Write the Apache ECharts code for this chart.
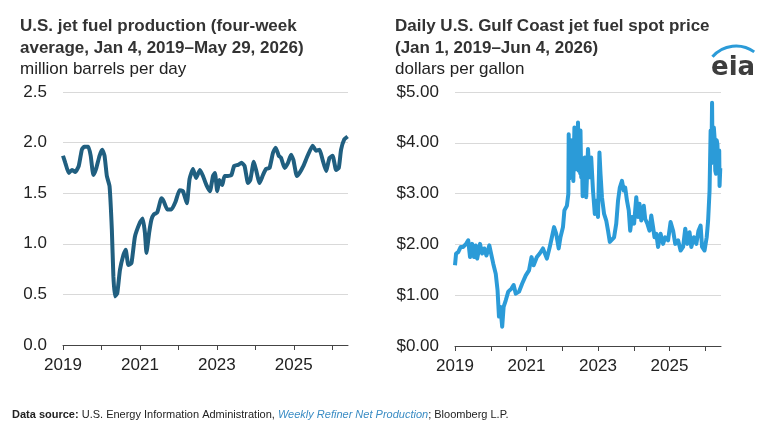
<!DOCTYPE html>
<html>
<head>
<meta charset="utf-8">
<script src="https://cdn.jsdelivr.net/npm/echarts@6/dist/echarts.min.js"></script>
<style>
html, body { margin: 0; padding: 0; background: #fff; }
#chart { width: 768px; height: 433px; }
</style>
</head>
<body>
<div id="chart"></div>
<script>
// left panel: four-week average jet fuel production (million b/d)
var prodYears = [2019.00, 2019.06, 2019.15, 2019.23, 2019.32, 2019.41, 2019.49, 2019.55, 2019.66, 2019.72,
  2019.79, 2019.86, 2019.95, 2020.02, 2020.08, 2020.14, 2020.21, 2020.27, 2020.31, 2020.35,
  2020.41, 2020.48, 2020.57, 2020.63, 2020.70, 2020.78, 2020.87, 2021.00, 2021.07, 2021.13,
  2021.17, 2021.24, 2021.30, 2021.36, 2021.45, 2021.56, 2021.62, 2021.71, 2021.82, 2021.93,
  2022.03, 2022.12, 2022.22, 2022.29, 2022.38, 2022.46, 2022.56, 2022.64, 2022.73, 2022.82,
  2022.90, 2022.95, 2023.01, 2023.07, 2023.14, 2023.20, 2023.29, 2023.38, 2023.45, 2023.55,
  2023.64, 2023.72, 2023.81, 2023.87, 2023.96, 2024.02, 2024.11, 2024.20, 2024.28, 2024.37,
  2024.46, 2024.53, 2024.61, 2024.67, 2024.76, 2024.85, 2024.93, 2024.99, 2025.08, 2025.15,
  2025.25, 2025.36, 2025.49, 2025.58, 2025.67, 2025.75, 2025.84, 2025.93, 2026.01, 2026.10,
  2026.17, 2026.23, 2026.31, 2026.40];
var prodValues = [1.87, 1.80, 1.70, 1.73, 1.71, 1.77, 1.93, 1.96, 1.96, 1.87,
  1.68, 1.74, 1.87, 1.93, 1.87, 1.67, 1.57, 1.14, 0.68, 0.48,
  0.51, 0.74, 0.89, 0.94, 0.79, 0.81, 1.07, 1.21, 1.25, 1.11,
  0.91, 1.11, 1.24, 1.29, 1.31, 1.45, 1.42, 1.34, 1.34, 1.42,
  1.53, 1.52, 1.40, 1.64, 1.74, 1.65, 1.73, 1.67, 1.58, 1.52,
  1.67, 1.70, 1.52, 1.63, 1.58, 1.67, 1.67, 1.68, 1.77, 1.78,
  1.80, 1.77, 1.60, 1.63, 1.81, 1.73, 1.60, 1.68, 1.74, 1.75,
  1.90, 1.95, 1.87, 1.85, 1.75, 1.80, 1.88, 1.83, 1.67, 1.70,
  1.77, 1.87, 1.97, 1.92, 1.93, 1.83, 1.72, 1.85, 1.87, 1.73,
  1.75, 1.93, 2.03, 2.06];

// right panel: Gulf Coast jet fuel spot price ($/gal)
var priceYears = [2019.00, 2019.03, 2019.09, 2019.16, 2019.23, 2019.31, 2019.37, 2019.42, 2019.48, 2019.53,
  2019.58, 2019.62, 2019.70, 2019.76, 2019.82, 2019.88, 2019.96, 2020.01, 2020.07, 2020.14,
  2020.19, 2020.23, 2020.27, 2020.32, 2020.36, 2020.42, 2020.49, 2020.58, 2020.64, 2020.70,
  2020.79, 2020.88, 2020.98, 2021.07, 2021.14, 2021.20, 2021.29, 2021.37, 2021.46, 2021.51,
  2021.57, 2021.65, 2021.71, 2021.77, 2021.83, 2021.90, 2021.95, 2022.02, 2022.06, 2022.13,
  2022.17, 2022.18, 2022.20, 2022.21, 2022.23, 2022.25, 2022.26, 2022.28, 2022.30, 2022.31,
  2022.34, 2022.36, 2022.37, 2022.39, 2022.41, 2022.42, 2022.44, 2022.46, 2022.48, 2022.50,
  2022.51, 2022.53, 2022.55, 2022.57, 2022.60, 2022.63, 2022.67, 2022.72, 2022.77, 2022.81,
  2022.86, 2022.91, 2022.95, 2023.00, 2023.04, 2023.07, 2023.11, 2023.17, 2023.23, 2023.28,
  2023.33, 2023.37, 2023.45, 2023.51, 2023.56, 2023.61, 2023.67, 2023.72, 2023.76, 2023.81,
  2023.86, 2023.90, 2023.95, 2024.01, 2024.07, 2024.12, 2024.16, 2024.21, 2024.28, 2024.32,
  2024.38, 2024.44, 2024.49, 2024.54, 2024.58, 2024.63, 2024.68, 2024.75, 2024.82, 2024.88,
  2024.96, 2025.03, 2025.10, 2025.16, 2025.24, 2025.31, 2025.38, 2025.44, 2025.50, 2025.56,
  2025.61, 2025.68, 2025.75, 2025.81, 2025.87, 2025.91, 2025.98, 2026.04, 2026.08, 2026.12,
  2026.15, 2026.17, 2026.19, 2026.20, 2026.22, 2026.24, 2026.26, 2026.28, 2026.30, 2026.32,
  2026.34, 2026.36, 2026.37, 2026.39, 2026.40, 2026.42];
var priceValues = [1.59, 1.82, 1.85, 1.95, 1.95, 2.01, 2.08, 1.75, 2.01, 1.75,
  1.98, 1.72, 2.01, 1.82, 1.92, 1.78, 1.98, 1.95, 1.62, 1.42,
  1.10, 0.58, 0.77, 0.38, 0.77, 0.90, 1.07, 1.13, 1.20, 1.03,
  1.07, 1.23, 1.39, 1.49, 1.75, 1.59, 1.75, 1.82, 1.92, 1.95,
  1.72, 1.95, 2.14, 2.34, 2.21, 1.92, 2.14, 2.34, 2.67, 2.76,
  2.99, 4.17, 3.30, 3.95, 3.39, 4.05, 3.40, 3.78, 3.35, 3.25,
  4.30, 3.50, 4.10, 3.48, 4.20, 3.60, 4.40, 3.45, 4.00, 3.40,
  4.24, 3.32, 3.70, 2.95, 3.50, 3.71, 2.93, 3.88, 3.32, 3.71,
  3.06, 2.60, 2.86, 2.54, 3.81, 3.39, 2.93, 2.60, 2.47, 2.27,
  2.05, 2.08, 2.14, 2.41, 2.86, 3.12, 3.25, 3.06, 3.12, 2.86,
  2.67, 2.27, 2.54, 2.41, 2.93, 2.54, 2.80, 2.47, 2.76, 2.50,
  2.41, 2.27, 2.57, 2.34, 2.14, 2.21, 1.95, 2.21, 2.01, 2.14,
  2.08, 2.44, 2.27, 2.01, 2.08, 1.88, 1.95, 2.31, 2.01, 2.24,
  1.95, 2.14, 2.01, 2.27, 2.37, 1.95, 1.88, 2.14, 2.47, 3.06,
  4.24, 3.60, 4.79, 4.00, 3.71, 4.30, 4.10, 3.45, 3.39, 4.05,
  3.97, 3.45, 3.52, 3.85, 3.15, 3.50];

var yearTicks = [2019, 2020, 2021, 2022, 2023, 2024, 2025, 2026];
var yearLabels = [2019, 2021, 2023, 2025];

var FONT = 'Liberation Sans, Arial, sans-serif';

function pairs(xs, ys) {
  var out = [];
  for (var i = 0; i < xs.length; i++) out.push([xs[i], ys[i]]);
  return out;
}

function xAxisFor(idx, maxYear) {
  return {
    type: 'value', gridIndex: idx, min: 2019, max: maxYear,
    splitLine: { show: false },
    axisLine: { lineStyle: { color: '#444', width: 1 } },
    axisTick: { customValues: yearTicks, length: 5, lineStyle: { color: '#444' } },
    axisLabel: {
      customValues: yearLabels, margin: 12, fontSize: 17, color: '#222', fontFamily: FONT,
      formatter: function (v) { return String(Math.round(v)); }
    }
  };
}

var chart = echarts.init(document.getElementById('chart'), null, { renderer: 'canvas' });

var option = {
  backgroundColor: '#fff',
  animation: false,
  title: [
    {
      text: 'U.S. jet fuel production (four-week\naverage, Jan 4, 2019\u2013May 29, 2026)',
      subtext: 'million barrels per day',
      left: 20, top: 16, padding: 0, itemGap: 0,
      textStyle: { fontSize: 17, fontWeight: 'bold', color: '#333', lineHeight: 21.5, fontFamily: FONT },
      subtextStyle: { fontSize: 17, color: '#222', lineHeight: 21, fontFamily: FONT }
    },
    {
      text: 'Daily U.S. Gulf Coast jet fuel spot price\n(Jan 1, 2019\u2013Jun 4, 2026)',
      subtext: 'dollars per gallon',
      left: 395, top: 16, padding: 0, itemGap: 0,
      textStyle: { fontSize: 17, fontWeight: 'bold', color: '#333', lineHeight: 21.5, fontFamily: FONT },
      subtextStyle: { fontSize: 17, color: '#222', lineHeight: 21, fontFamily: FONT }
    }
  ],
  grid: [
    { left: 63, top: 92, width: 285, height: 253 },
    { left: 455, top: 92, width: 266, height: 254 }
  ],
  xAxis: [xAxisFor(0, 2026.41), xAxisFor(1, 2026.44)],
  yAxis: [
    {
      type: 'value', gridIndex: 0, min: 0, max: 2.5, interval: 0.5,
      axisLine: { show: false }, axisTick: { show: false },
      splitLine: { lineStyle: { color: '#d9d9d9', width: 1 } },
      axisLabel: { margin: 16, fontSize: 17, color: '#222', fontFamily: FONT,
        formatter: function (v) { return v.toFixed(1); } }
    },
    {
      type: 'value', gridIndex: 1, min: 0, max: 5, interval: 1,
      axisLine: { show: false }, axisTick: { show: false },
      splitLine: { lineStyle: { color: '#d9d9d9', width: 1 } },
      axisLabel: { margin: 16, fontSize: 17, color: '#222', fontFamily: FONT,
        formatter: function (v) { return '$' + v.toFixed(2); } }
    }
  ],
  series: [
    {
      name: 'production', type: 'line', xAxisIndex: 0, yAxisIndex: 0,
      data: pairs(prodYears, prodValues), showSymbol: false, smooth: 0.15,
      lineStyle: { color: '#205f80', width: 4 }
    },
    {
      name: 'price', type: 'line', xAxisIndex: 1, yAxisIndex: 1,
      data: pairs(priceYears, priceValues), showSymbol: false,
      lineStyle: { color: '#2b9bd8', width: 4, join: 'round' }
    }
  ],
  graphic: [
    {
      type: 'arc', silent: true,
      shape: { cx: 736, cy: 77, r: 31, startAngle: 3.85, endAngle: 5.34, clockwise: true },
      style: { stroke: '#2b9bd8', lineWidth: 3, fill: null }
    },
    {
      type: 'text', left: 711, top: 55, silent: true,
      style: { text: 'eia', font: 'bold 26px DejaVu Sans', fill: '#3d3d3d' }
    },
    {
      type: 'text', left: 12, top: 409, silent: true,
      style: {
        text: '{b|Data source:} U.S. Energy Information Administration, {i|Weekly Refiner Net Production}; Bloomberg L.P.',
        font: '11px Liberation Sans', fill: '#222',
        rich: {
          b: { fontWeight: 'bold', fontSize: 11, fontFamily: FONT, fill: '#222' },
          i: { fontStyle: 'italic', fontSize: 11, fontFamily: FONT, fill: '#3a8cc4' }
        }
      }
    }
  ]
};

chart.setOption(option);
</script>
</body>
</html>
